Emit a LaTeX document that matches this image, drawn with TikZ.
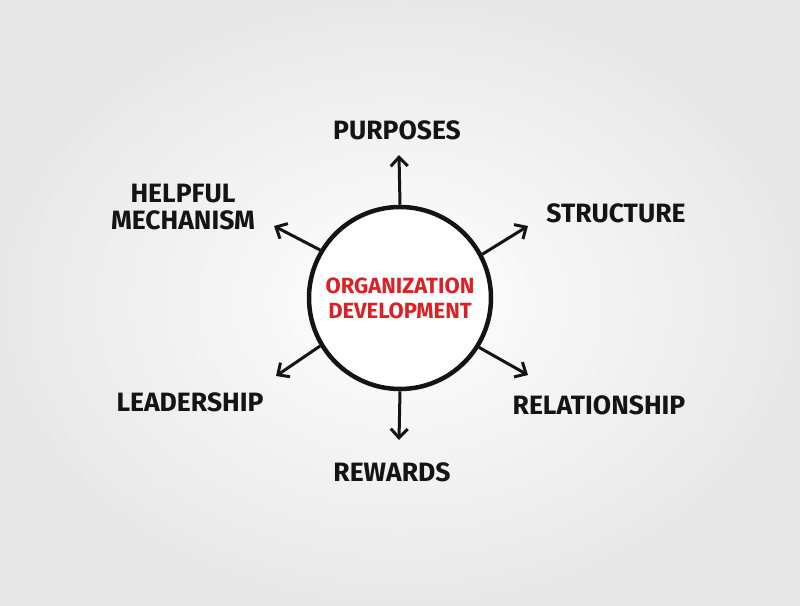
\documentclass[tikz,border=0pt]{standalone}
\usepackage{fontspec}
\setmainfont{Fira Sans}
\usepackage{xcolor}
\usetikzlibrary{arrows.meta, positioning}
\definecolor{markred}{RGB}{222,32,36}
\definecolor{ink}{RGB}{20,20,20}
\tikzset{
    topic/.style={
        text=ink,
        font=\fontsize{26.5}{27}\selectfont\bfseries,
        align=center,
        inner sep=0pt
    },
    hub/.style={
        circle,
        draw=ink,
        line width=4.5pt,
        fill=white,
        minimum size=182pt,
        inner sep=0pt,
        text=markred,
        font=\fontsize{22}{25}\selectfont\bfseries,
        align=center
    },
    spoke/.style={
        draw=ink,
        line width=3pt,
        -{Straight Barb[length=9pt,width=17pt,line width=3pt]}
    }
}
\begin{document}
\begin{tikzpicture}[x=1pt, y=-1pt]

% Background
\shade[inner color=white, outer color=black!9] (0,0) rectangle (800,605);
\useasboundingbox (0,0) rectangle (800,605);

% Hub
\node[hub] (od) at (400,298) {ORGANIZATION\\DEVELOPMENT};

% Topics
\node[topic] (purposes) at (397,130) {PURPOSES};
\node[topic] (structure) at (616,213) {STRUCTURE};
\node[topic] (helpful) at (183,207) {HELPFUL\\MECHANISM};
\node[topic] (leadership) at (190,402) {LEADERSHIP};
\node[topic] (relationship) at (599,405) {RELATIONSHIP};
\node[topic] (rewards) at (392,472) {REWARDS};

% Arrow tips
\coordinate (tipP) at (399,155);
\coordinate (tipS) at (528,226);
\coordinate (tipH) at (274,226);
\coordinate (tipL) at (276,376);
\coordinate (tipR) at (528,375);
\coordinate (tipW) at (399,440);

\draw[spoke] (od.90) -- (tipP);
\draw[spoke] (od.28) -- (tipS);
\draw[spoke] (od.149) -- (tipH);
\draw[spoke] (od.211) -- (tipL);
\draw[spoke] (od.328) -- (tipR);
\draw[spoke] (od.270) -- (tipW);

\end{tikzpicture}
\end{document}
